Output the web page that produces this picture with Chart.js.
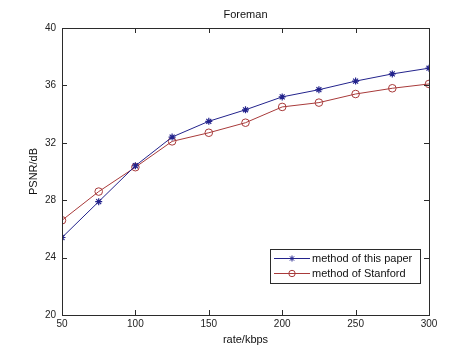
<!DOCTYPE html>
<html>
<head>
<meta charset="utf-8">
<style>
  html, body { margin: 0; padding: 0; background: #fff; }
  #wrap { width: 474px; height: 354px; }
</style>
<script src="https://cdn.jsdelivr.net/npm/chart.js"></script>
</head>
<body>
<div id="wrap"><canvas id="chart" width="474" height="354"></canvas></div>
<script>
const rates = [50, 75, 100, 125, 150, 175, 200, 225, 250, 275, 300];
const psnrPaper = [25.4, 27.9, 30.4, 32.4, 33.5, 34.3, 35.2, 35.7, 36.3, 36.8, 37.2];
const psnrStanford = [26.6, 28.6, 30.3, 32.1, 32.7, 33.4, 34.5, 34.8, 35.4, 35.8, 36.1];
const xTicks = [50, 100, 150, 200, 250, 300];
const yTicks = [20, 24, 28, 32, 36, 40];

const blue = "#23238c";
const red = "#a83a3a";
const fontFam = "Arial, 'Liberation Sans', sans-serif";

const toPoints = (vals) => rates.map((r, i) => ({ x: r, y: vals[i] }));

// box round the plot + inward ticks on all four sides (matlab look)
// title drawn here too so it sits over the plot, not the canvas
const framePlugin = {
  id: "frame",
  afterDraw(chart) {
    const { ctx, chartArea: a, scales } = chart;
    const len = 5;
    ctx.save();
    ctx.strokeStyle = "#2b2b2b";
    ctx.lineWidth = 1;
    ctx.strokeRect(a.left + 0.5, a.top + 0.5, a.right - a.left, a.bottom - a.top);
    ctx.beginPath();
    xTicks.forEach((v) => {
      const px = Math.round(scales.x.getPixelForValue(v)) + 0.5;
      ctx.moveTo(px, a.bottom);
      ctx.lineTo(px, a.bottom - len);
      ctx.moveTo(px, a.top);
      ctx.lineTo(px, a.top + len);
    });
    yTicks.forEach((v) => {
      const py = Math.round(scales.y.getPixelForValue(v)) + 0.5;
      ctx.moveTo(a.left, py);
      ctx.lineTo(a.left + len, py);
      ctx.moveTo(a.right, py);
      ctx.lineTo(a.right - len, py);
    });
    ctx.stroke();

    ctx.fillStyle = "#111";
    ctx.font = "11px " + fontFam;
    ctx.textAlign = "center";
    ctx.textBaseline = "middle";
    ctx.fillText("Foreman", (a.left + a.right) / 2, a.top - 13);
    ctx.restore();
  },
};

// legend box inside the plot, lower right
const legendPlugin = {
  id: "boxLegend",
  afterDraw(chart) {
    const { ctx, chartArea: a } = chart;
    const w = 150, h = 34;
    const x0 = a.right - 9 - w;
    const y0 = a.bottom - 32 - h;
    ctx.save();
    ctx.fillStyle = "#fff";
    ctx.fillRect(x0, y0, w, h);
    ctx.strokeStyle = "#2b2b2b";
    ctx.lineWidth = 1;
    ctx.strokeRect(Math.round(x0) + 0.5, Math.round(y0) + 0.5, w, h);
    ctx.font = "11px " + fontFam;
    ctx.textBaseline = "middle";
    chart.data.datasets.forEach((ds, i) => {
      const cy = Math.round(y0 + 9 + i * 15) + 0.5;
      const lx1 = x0 + 4, lx2 = x0 + 40, mx = x0 + 22;
      ctx.strokeStyle = ds.borderColor;
      ctx.beginPath();
      ctx.moveTo(lx1, cy);
      ctx.lineTo(lx2, cy);
      ctx.stroke();
      ctx.beginPath();
      if (ds.pointStyle === "star") {
        const r = 3, d = r * Math.SQRT1_2;
        ctx.moveTo(mx - r, cy); ctx.lineTo(mx + r, cy);
        ctx.moveTo(mx, cy - r); ctx.lineTo(mx, cy + r);
        ctx.moveTo(mx - d, cy - d); ctx.lineTo(mx + d, cy + d);
        ctx.moveTo(mx - d, cy + d); ctx.lineTo(mx + d, cy - d);
      } else {
        ctx.arc(mx, cy, 3.2, 0, Math.PI * 2);
      }
      ctx.stroke();
      ctx.fillStyle = "#111";
      ctx.fillText(ds.label, x0 + 42, cy);
    });
    ctx.restore();
  },
};

new Chart(document.getElementById("chart"), {
  type: "line",
  data: {
    datasets: [
      {
        label: "method of this paper",
        data: toPoints(psnrPaper),
        borderColor: blue,
        backgroundColor: "transparent",
        borderWidth: 1,
        pointStyle: "star",
        pointRadius: 3.5,
        pointBorderColor: blue,
        pointBorderWidth: 1.2,
        tension: 0,
      },
      {
        label: "method of Stanford",
        data: toPoints(psnrStanford),
        borderColor: red,
        backgroundColor: "transparent",
        borderWidth: 1,
        pointStyle: "circle",
        pointRadius: 3.8,
        pointBorderColor: red,
        pointBackgroundColor: "transparent",
        pointBorderWidth: 1,
        tension: 0,
      },
    ],
  },
  options: {
    responsive: false,
    animation: false,
    layout: { padding: { left: 0, right: 45, top: 28, bottom: 0 } },
    plugins: {
      legend: { display: false },
      tooltip: { enabled: false },
      title: { display: false },
    },
    scales: {
      x: {
        type: "linear",
        min: 50,
        max: 300,
        afterBuildTicks: (s) => { s.ticks = xTicks.map((v) => ({ value: v })); },
        afterFit: (s) => { s.height = 39; },
        grid: { display: false, drawTicks: false },
        border: { display: false },
        ticks: { color: "#222", padding: 3, maxRotation: 0, font: { family: fontFam, size: 10 } },
        title: {
          display: true,
          text: "rate/kbps",
          color: "#111",
          font: { family: fontFam, size: 11 },
          padding: { top: 0, bottom: 7.4 },
        },
      },
      y: {
        min: 20,
        max: 40,
        afterBuildTicks: (s) => { s.ticks = yTicks.map((v) => ({ value: v })); },
        afterFit: (s) => { s.width = 62; },
        grid: { display: false, drawTicks: false },
        border: { display: false },
        ticks: { color: "#222", padding: 6, font: { family: fontFam, size: 10 } },
        title: {
          display: true,
          text: "PSNR/dB",
          color: "#111",
          font: { family: fontFam, size: 11 },
          padding: { top: 27.4, bottom: 0 },
        },
      },
    },
  },
  plugins: [framePlugin, legendPlugin],
});
</script>
</body>
</html>
